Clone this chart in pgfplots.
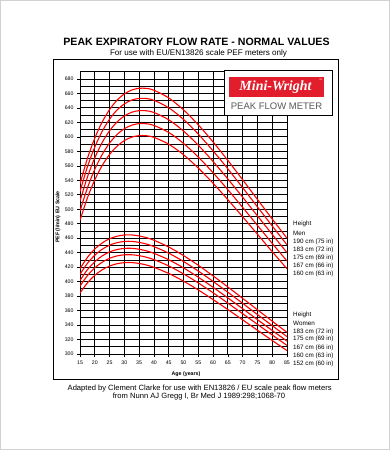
\documentclass[border=0pt]{standalone}
\usepackage{fontspec}
\setmainfont{Liberation Sans}
\newfontfamily\logofont{Liberation Serif}
\usepackage{pgfplots}
\usepackage{pgfplotstable}
\pgfplotsset{compat=1.18}
\definecolor{pefred}{RGB}{255,0,0}
\definecolor{logored}{RGB}{226,30,45}
\pgfplotsset{pefcurve/.style={pefred, line width=1.1pt, smooth, mark=none}}

% Men: age, 190cm, 183cm, 175cm, 167cm, 160cm
\pgfplotstableread{
age  a     b     c     d     e
15   535.3 524.4 511.4 497.5 484.7
17.5 570.1 558.4 544.4 529.4 515.6
20   598.2 585.9 571.0 555.2 540.6
22.5 620.5 607.6 592.1 575.6 560.4
25   637.7 624.4 608.4 591.4 575.6
27.5 650.5 636.9 620.5 603.1 586.9
30   659.3 645.5 628.8 611.2 594.8
32.5 664.7 650.8 634.0 616.1 599.6
35   667.1 653.1 636.2 618.3 601.7
37.5 666.9 652.9 636.0 618.1 601.5
40   664.4 650.5 633.7 615.8 599.3
45   653.8 640.2 623.6 606.1 589.9
50   637.3 624.1 608.0 591.0 575.3
55   616.6 603.8 588.4 572.1 556.9
60   593.0 580.7 566.0 550.4 535.9
65   567.4 555.8 541.8 527.0 513.2
70   540.7 529.8 516.6 502.6 489.6
75   513.6 503.3 490.9 477.7 465.5
80   486.5 476.9 465.3 452.9 441.4
85   459.9 450.9 440.0 428.4 417.7
}\men

% Women: age, 183cm, 175cm, 167cm, 160cm, 152cm
\pgfplotstableread{
age  a     b     c     d     e
15   417.9 410.1 401.7 393.8 384.3
17.5 433.4 425.2 416.4 408.2 398.2
20   445.0 436.5 427.4 419.0 408.7
22.5 453.4 444.7 435.5 426.8 416.3
25   459.2 450.4 441.0 432.2 421.5
27.5 462.7 453.8 444.3 435.5 424.7
30   464.4 455.5 445.9 437.0 426.2
32.5 464.5 455.6 446.0 437.1 426.3
35   463.1 454.2 444.7 435.9 425.1
37.5 460.7 451.9 442.4 433.6 422.9
40   457.2 448.4 439.1 430.4 419.7
45   447.8 439.3 430.2 421.7 411.3
50   436.0 427.8 419.0 410.7 400.6
55   422.6 414.6 406.1 398.2 388.5
60   407.9 400.3 392.2 384.6 375.2
65   392.6 385.3 377.5 370.3 361.4
70   376.9 370.0 362.6 355.7 347.2
75   361.1 354.5 347.5 341.0 332.9
80   345.4 339.2 332.5 326.3 318.7
85   329.9 324.0 317.8 311.9 304.7
}\women

\begin{document}
\begin{tikzpicture}[x=1pt,y=1pt]
\path[use as bounding box] (0,0) rectangle (390,450);
\draw[gray!35, line width=1pt] (0.5,0.5) rectangle (389.5,449.5);

\begin{axis}[
  at={(80pt,96pt)}, anchor=south west,
  scale only axis, width=207pt, height=282.3pt,
  xmin=15, xmax=85, ymin=300, ymax=690,
  xtick={15,20,...,85}, ytick={300,320,...,680},
  minor ytick={310,330,...,690},
  grid=both,
  grid style={black, line width=0.8pt},
  minor grid style={black, line width=0.8pt},
  axis line style={black, line width=0.8pt},
  tick style={black, line width=0.6pt},
  tick align=outside, major tick length=3pt, minor tick length=0pt,
  xtick pos=left, ytick pos=left,
  tick label style={font=\fontsize{5.2}{6}\selectfont},
  /pgf/number format/assume math mode=true,
]
\addplot[pefcurve] table[x=age,y=a] {\men};
\addplot[pefcurve] table[x=age,y=b] {\men};
\addplot[pefcurve] table[x=age,y=c] {\men};
\addplot[pefcurve] table[x=age,y=d] {\men};
\addplot[pefcurve] table[x=age,y=e] {\men};
\addplot[pefcurve] table[x=age,y=a] {\women};
\addplot[pefcurve] table[x=age,y=b] {\women};
\addplot[pefcurve] table[x=age,y=c] {\women};
\addplot[pefcurve] table[x=age,y=d] {\women};
\addplot[pefcurve] table[x=age,y=e] {\women};
\end{axis}

% titles
\node[font=\bfseries\fontsize{10.6}{12}\selectfont] at (196.5,408.3) {PEAK EXPIRATORY FLOW RATE - NORMAL VALUES};
\node[font=\fontsize{8.1}{9}\selectfont] at (198.5,397) {For use with EU/EN13826 scale PEF meters only};

% frame
\draw[black, line width=1pt] (53,70) rectangle (338,390.7);

% axis labels
\node[font=\bfseries\fontsize{5.3}{6}\selectfont] at (186,76) {Age (years)};
\node[rotate=90, font=\bfseries\fontsize{5.3}{6}\selectfont] at (58,233) {PEF (l/min) EU Scale};

% legend texts
\begin{scope}[every node/.style={anchor=west, inner sep=0pt, font=\fontsize{6.3}{7}\selectfont}]
\node at (293,225.7) {Height};
\node at (293,216.7) {Men};
\node at (293,208.3) {190 cm (75 in)};
\node at (293,200.0) {183 cm (72 in)};
\node at (293,192.0) {175 cm (69 in)};
\node at (293,184.0) {167 cm (66 in)};
\node at (293,176.0) {160 cm (63 in)};
\node at (293,135.0) {Height};
\node at (293,126.7) {Women};
\node at (293,118.3) {183 cm (72 in)};
\node at (293,110.7) {175 cm (69 in)};
\node at (293,102.5) {167 cm (66 in)};
\node at (293,94.0) {160 cm (63 in)};
\node at (293,85.7) {152 cm (60 in)};
\end{scope}

% logo
\draw[black, fill=white, line width=0.8pt] (224,335) rectangle (332,379.3);
\fill[logored] (229,353.3) rectangle (324,373.3);
\node[white, font=\logofont\bfseries\itshape\fontsize{14}{14}\selectfont] at (275.5,362.8) {Mini-Wright};
\node[white, font=\fontsize{3.5}{4}\selectfont] at (320.5,370) {™};
\node[gray!70!black, font=\fontsize{9.5}{10}\selectfont] at (276.5,343.3) {PEAK FLOW METER};

% footer
\node[font=\fontsize{7.6}{9}\selectfont] at (199.7,61.7) {Adapted by Clement Clarke for use with EN13826 / EU scale peak flow meters};
\node[font=\fontsize{7.6}{9}\selectfont] at (199,53.3) {from Nunn AJ Gregg I, Br Med J 1989:298;1068-70};
\end{tikzpicture}
\end{document}
